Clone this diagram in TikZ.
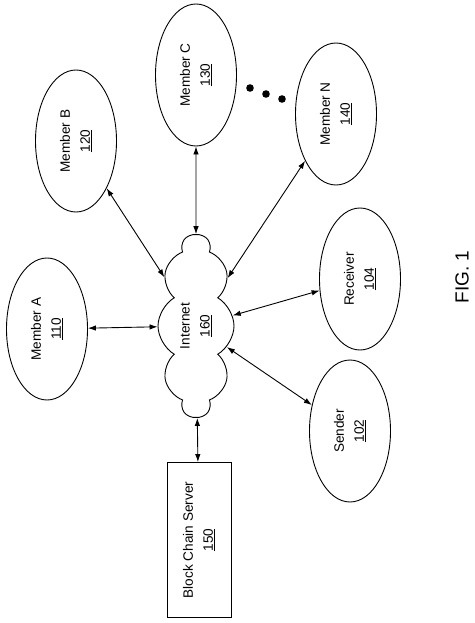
\documentclass[tikz,border=0pt]{standalone}
\usepackage{fontspec}
\setmainfont{Liberation Sans}
\usetikzlibrary{arrows.meta, shapes.geometric, shapes.symbols}

\begin{document}
\begin{tikzpicture}[x=1pt, y=-1pt, >={Latex[length=8pt, width=5.5pt]},
    every node/.style={font=\fontsize{13.6}{20}\selectfont, line width=0.9pt},
    member/.style={ellipse, draw, rotate=90, minimum width=142pt, minimum height=81pt, inner sep=0, align=center},
    server/.style={rectangle, draw, rotate=90, minimum width=155pt, minimum height=64pt, inner sep=0, align=center},
    net/.style={cloud, draw, rotate=90, cloud puffs=10, cloud puff arc=120, aspect=2.4, minimum width=182pt, minimum height=76pt, inner sep=0, align=center},
    link/.style={<->, line width=0.9pt}]
    \useasboundingbox (0,0) rectangle (474,623);

    \node(mem-a)[member] at (47,329) { Member A \\ \underline{110} };
    \node(mem-b)[member] at (76,141) { Member B \\ \underline{120} };
    \node(mem-c)[member] at (196,75) { Member C \\ \underline{130} };
    \node(mem-n)[member] at (336,114) { Member N \\ \underline{140} };
    \node(receiver)[member] at (360,279) { Receiver \\ \underline{104} };
    \node(sender)[member] at (350,431) { Sender \\ \underline{102} };
    \node(internet)[net] at (196,326) { Internet \\ \underline{160} };
    \node(server)[server] at (199,540) { Block Chain Server \\ \underline{150} };
    \node(fig)[rotate=90, font=\fontsize{19}{22}\selectfont] at (462,277) { FIG. 1 };

    \foreach \m in {mem-a, mem-b, mem-c, mem-n, receiver, sender, server}
        \draw[link] (\m) -- (internet);

    \foreach \x/\y in {250/88, 266/94, 282/99}
        \fill (\x,\y) circle (3.8pt);
\end{tikzpicture}
\end{document}
